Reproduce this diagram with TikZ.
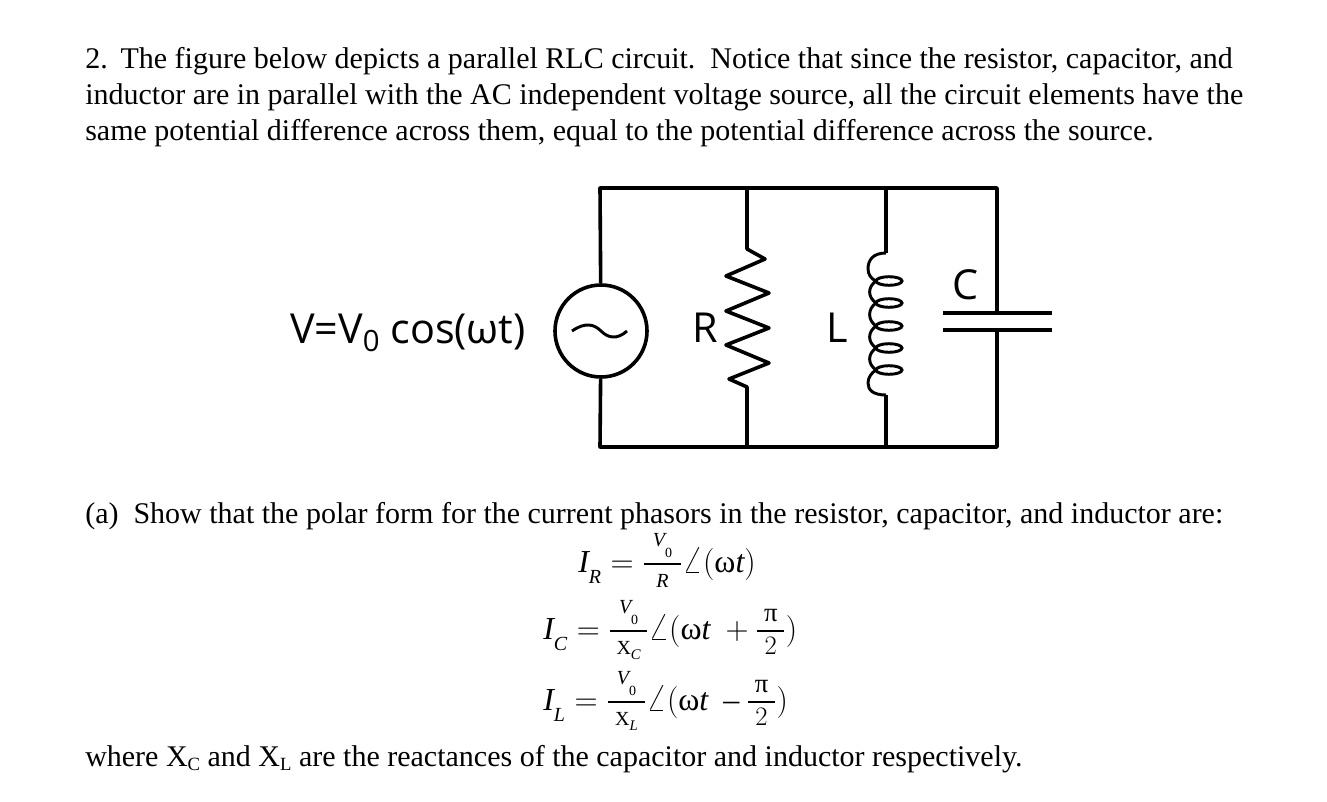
\documentclass[tikz,border=0pt]{standalone}
\usepackage{fix-cm}
\usepackage{amsmath}
\usepackage{fontspec}
\setmainfont{Liberation Serif}
\usepackage[italic]{mathastext}
\newfontfamily\labelfont{Open Sans}
\newcommand{\smallit}[1]{\hbox{\fontsize{15}{17}\selectfont\itshape #1}}
\newcommand{\lowsub}[1]{_{\lower5pt\smallit{#1}}}
\newcommand{\vzero}{\rule[-11.5pt]{0pt}{11.5pt}\smallit{V}\lower8pt\hbox{\fontsize{10.5}{12}\selectfont 0}}
\newcommand{\eqfrac}[2]{\frac{\hskip6.5pt #1\hskip6.5pt}{\rule{0pt}{16pt}#2}}
\newcommand{\pifrac}{\frac{\hskip5pt\rule[-5.6pt]{0pt}{5.6pt}\text{\upshape π}\hskip5pt}{\rule{0pt}{16pt}2}}
\newcommand{\upX}[1]{\hbox{\fontsize{15}{17}\selectfont X\lower4pt\hbox{\fontsize{11}{13}\selectfont\itshape #1}}}
\newcommand{\upw}{\text{\upshape ω}}
\newcommand{\lowtext}[1]{\raisebox{-3pt}{\fontsize{14}{16}\selectfont #1}}
\tikzset{
	wire/.style={line width=2.7pt, line join=round},
	coil/.style={line width=2.2pt},
	bodyline/.style={anchor=base west, inner sep=0pt, font=\fontsize{22.5}{26}\selectfont},
	partlabel/.style={anchor=base, inner sep=0pt, font=\labelfont\fontsize{31}{36}\selectfont},
	eqline/.style={anchor=base west, inner sep=0pt, font=\fontsize{24}{28}\selectfont}
}
\begin{document}
\begin{tikzpicture}[x=0.75pt, y=-0.75pt]
	\useasboundingbox (0,0) rectangle (1327,802);

	\node[bodyline] (lineone) at (85,69) {2.\ \hspace{4pt}The figure below depicts a parallel RLC circuit.\ \ Notice that since the resistor, capacitor, and};
	\node[bodyline] (linetwo) at (85,105) {inductor are in parallel with the AC independent voltage source, all the circuit elements have the};
	\node[bodyline] (linethree) at (85,141) {same potential difference across them, equal to the potential difference across the source.};

	% corners and junctions
	\coordinate (tl) at (600,188);
	\coordinate (tr) at (997,188);
	\coordinate (bl) at (600,447);
	\coordinate (br) at (997,447);
	\coordinate (rtop) at (747,188);
	\coordinate (rbot) at (747,447);
	\coordinate (ltop) at (886,188);
	\coordinate (lbot) at (886,447);

	\node[circle, draw, wire, minimum size=69pt, inner sep=0pt] (source) at (601,331) {};
	\draw[coil] (572,331) .. controls (585,322) and (594,324) .. (601,331) .. controls (608,338) and (617,340) .. (627,331);

	% outer loop
	\draw[wire] (source) -- (tl) -- (tr) -- (997,313);
	\draw[wire] (source) -- (bl) -- (br) -- (997,330);

	% resistor
	\coordinate (rin) at (747,249);
	\coordinate (rout) at (747,387);
	\draw[wire] (rtop) -- (rin) -- (765,259) -- (726,276) -- (769,293) -- (726,311) -- (769,328) -- (726,345) -- (769,363) -- (729,379) -- (rout) -- (rbot);

	% inductor
	\coordinate (lin) at (886,253);
	\coordinate (lout) at (886,395);
	\draw[wire] (ltop) -- (lin);
	\draw[wire] (lout) -- (lbot);
	\draw[coil] (lin) .. controls (873,253) and (868,260) .. (868,269) .. controls (868,274) and (871,279) .. (876,281);
	\draw[coil] (lout) .. controls (873,395) and (868,390) .. (868,383) .. controls (868,378) and (871,373) .. (876,370);
	\foreach \y in {281,303,326,348,370} {
		\draw[coil] (889,\y) ellipse (13 and 4.3);
	}
	\draw[coil] (876,281) .. controls (867.5,287) and (867.5,297) .. (876,303);
	\draw[coil] (876,303) .. controls (867.5,309) and (867.5,320) .. (876,326);
	\draw[coil] (876,326) .. controls (867.5,332) and (867.5,342) .. (876,348);
	\draw[coil] (876,348) .. controls (867.5,354) and (867.5,364) .. (876,370);

	% capacitor
	\draw[wire] (943,313) -- (1052,313);
	\draw[wire] (943,330) -- (1052,330);

	\node[partlabel] (rlabel) at (705,342) {R};
	\node[partlabel] (llabel) at (837,342) {L};
	\node[partlabel] (clabel) at (966,300) {C};
	\node[partlabel, anchor=base east] (vlabel) at (526,343) {V=V\raisebox{-6pt}{\fontsize{22}{26}\selectfont 0} cos(ω{}t)};

	\node[bodyline] (parta) at (85,523) {(a)\ \ Show that the polar form for the current phasors in the resistor, capacitor, and inductor are:};

	\node[eqline] (eqr) at (578,572) {$I\lowsub{R} = \eqfrac{\vzero}{\smallit{R}}\angle(\upw t)$};
	\node[eqline] (eqc) at (543,639) {$I\lowsub{C} = \eqfrac{\vzero}{\upX{C}}\angle(\upw t\ + \pifrac)$};
	\node[eqline] (eql) at (543,710) {$I\lowsub{L} = \eqfrac{\vzero}{\upX{L}}\angle(\upw t\ - \pifrac)$};

	\node[bodyline] (lastline) at (85,766) {where X\lowtext{C} and X\lowtext{L} are the reactances of the capacitor and inductor respectively.};
\end{tikzpicture}
\end{document}
